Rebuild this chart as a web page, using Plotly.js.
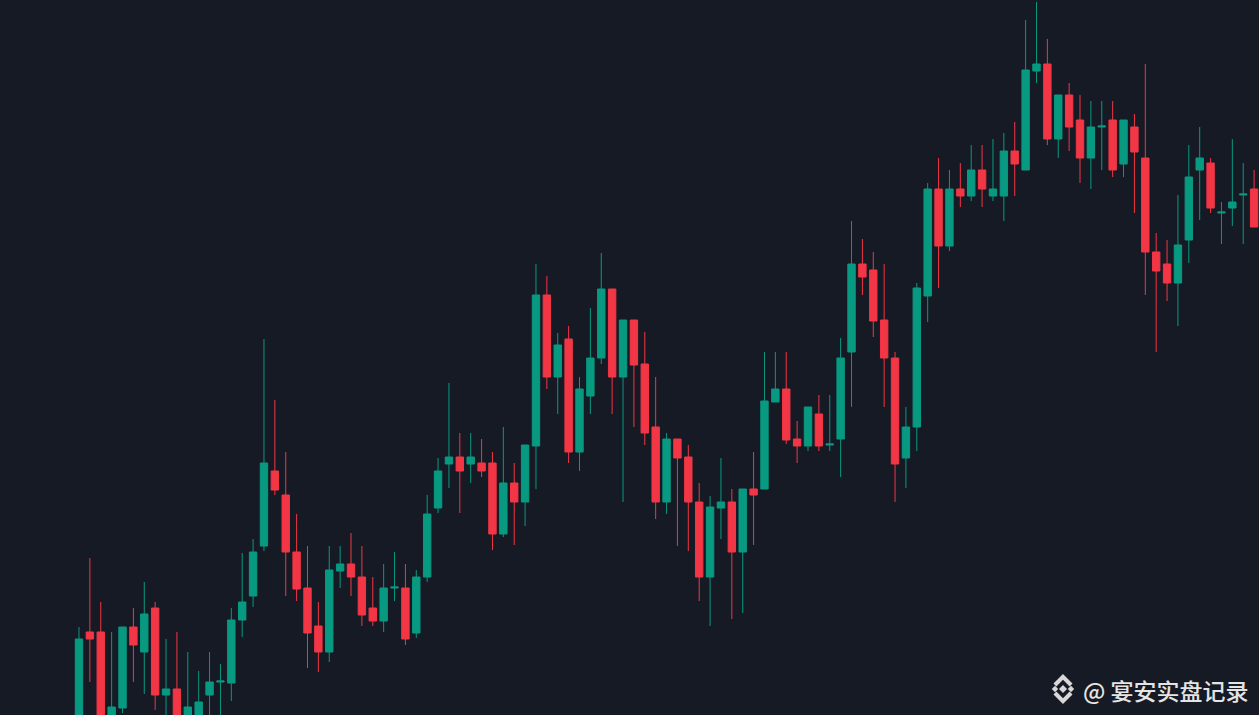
<!DOCTYPE html>
<html>
<head>
<meta charset="utf-8">
<script src="https://cdn.plot.ly/plotly-3.0.1.min.js"></script>
<style>
  html, body { margin: 0; padding: 0; background: #161a25; overflow: hidden; }
  #chart { width: 1259px; height: 715px; }
</style>
</head>
<body>
<div id="chart"></div>
<script>
// Price values (arbitrary price units)
const openP = [
  -5, 83, 83, -5, 7, 88, 63, 107, 20, 26,
  -3, -3, 20, 33, 32, 95, 119, 169, 244, 220,
  163, 127, 89, 63, 144, 151, 138, 107, 94, 127,
  127, 82, 138, 207, 251, 258, 251, 252, 252, 181,
  232, 213, 269, 420, 338, 376, 263, 319, 357, 426,
  338, 395, 351, 288, 213, 276, 258, 213, 138, 207,
  213, 163, 226, 226, 313, 326, 276, 269, 301, 270,
  276, 363, 451, 445, 395, 357, 257, 288, 419, 526,
  469, 526, 519, 545, 519, 519, 564, 545, 644, 651,
  576, 620, 595, 557, 588, 595, 551, 588, 557, 463,
  451, 432, 475, 545, 552, 502, 507, 520, 526
];
const highP = [
  88, 157, 113, 83, 88, 107, 133, 113, 76, 83,
  63, 44, 63, 51, 107, 162, 176, 376, 315, 263,
  201, 169, 113, 169, 169, 182, 169, 138, 151, 163,
  151, 145, 220, 257, 332, 282, 282, 276, 263, 288,
  252, 270, 451, 439, 382, 389, 338, 407, 462, 426,
  395, 395, 383, 338, 282, 276, 270, 232, 219, 257,
  226, 226, 263, 363, 363, 363, 294, 308, 320, 320,
  377, 494, 476, 463, 451, 363, 308, 432, 532, 557,
  545, 552, 570, 570, 576, 582, 593, 695, 713, 676,
  620, 632, 620, 614, 614, 614, 595, 601, 651, 482,
  475, 520, 570, 588, 557, 513, 576, 552, 545
];
const lowP = [
  -12, 33, -10, -10, 2, 33, 21, 5, -3, -10,
  -8, -8, -3, -3, 14, 78, 108, 164, 220, 119,
  114, 47, 43, 53, 127, 119, 89, 89, 83, 114,
  70, 77, 133, 202, 227, 202, 232, 238, 165, 178,
  170, 189, 226, 326, 301, 252, 244, 301, 351, 301,
  213, 288, 270, 196, 201, 169, 164, 114, 89, 176,
  96, 102, 170, 226, 313, 271, 252, 264, 264, 264,
  238, 308, 420, 378, 308, 213, 227, 264, 393, 427,
  464, 508, 514, 508, 514, 494, 519, 545, 632, 570,
  557, 564, 532, 526, 545, 538, 538, 502, 420, 363,
  414, 389, 452, 495, 502, 471, 489, 471, 488
];
const closeP = [
  76, 76, -5, 8, 88, 70, 101, 20, 26, -5,
  8, 13, 33, 34, 95, 113, 163, 252, 225, 163,
  126, 82, 63, 145, 151, 138, 100, 94, 127, 128,
  76, 138, 201, 244, 258, 244, 258, 244, 181, 232,
  213, 270, 420, 338, 370, 263, 326, 357, 426, 338,
  395, 350, 282, 213, 276, 257, 213, 138, 208, 213,
  163, 226, 220, 314, 326, 275, 269, 308, 269, 271,
  357, 451, 438, 394, 357, 251, 288, 427, 526, 469,
  526, 519, 545, 526, 526, 564, 551, 645, 651, 576,
  620, 588, 557, 588, 589, 545, 595, 563, 463, 444,
  432, 470, 538, 557, 507, 503, 513, 521, 488
];
const bars = openP.map((_, i) => i);

const UP = '#089981';
const DOWN = '#f23645';
const BG = '#161a25';
const W = 1259, H = 715;

const trace = {
  type: 'candlestick',
  x: bars,
  open: openP,
  high: highP,
  low: lowP,
  close: closeP,
  increasing: { line: { color: UP, width: 1 }, fillcolor: UP },
  decreasing: { line: { color: DOWN, width: 1 }, fillcolor: DOWN },
  whiskerwidth: 0,
  hoverinfo: 'skip',
  showlegend: false
};

// Binance-style logo drawn as paper-referenced polygons (pixel coords -> paper)
function poly(pts) {
  return 'M' + pts.map(p => (p[0] / W).toFixed(5) + ',' + ((H - p[1]) / H).toFixed(5)).join(' L') + ' Z';
}
function diamond(cx, cy, r) {
  return poly([[cx, cy - r], [cx + r, cy], [cx, cy + r], [cx - r, cy]]);
}
const LOGO = '#d8d8d8';
const logoPaths = [
  diamond(1063, 689, 4.0),
  diamond(1055, 689, 3.2),
  diamond(1071, 689, 3.2),
  poly([[1053.5, 683.5], [1063, 674], [1072.5, 683.5], [1069.6, 686.4], [1063, 679.8], [1056.4, 686.4]]),
  poly([[1053.5, 694.5], [1063, 704], [1072.5, 694.5], [1069.6, 691.6], [1063, 698.2], [1056.4, 691.6]])
];
const shapes = logoPaths.map(p => ({
  type: 'path', xref: 'paper', yref: 'paper', path: p,
  fillcolor: LOGO, line: { width: 0 }, layer: 'above'
}));

const layout = {
  width: W,
  height: H,
  margin: { l: 0, r: 0, t: 0, b: 0, pad: 0 },
  paper_bgcolor: BG,
  plot_bgcolor: BG,
  boxgap: 0.32,
  boxgroupgap: 0,
  showlegend: false,
  xaxis: {
    range: [-7.26, 108.45],
    visible: false,
    showgrid: false,
    zeroline: false,
    rangeslider: { visible: false },
    fixedrange: true
  },
  yaxis: {
    range: [0, 715],
    visible: false,
    showgrid: false,
    zeroline: false,
    fixedrange: true
  },
  shapes: shapes,
  annotations: [
    {
      text: '@ 宴安实盘记录',
      xref: 'paper', yref: 'paper',
      x: 1251 / W, y: 0.035,
      xanchor: 'right', yanchor: 'middle',
      showarrow: false,
      font: { family: 'Noto Sans CJK SC', size: 23, color: '#e4e4e4', weight: 500 }
    }
  ]
};

Plotly.newPlot('chart', [trace], layout, { displayModeBar: false, staticPlot: true });
</script>
</body>
</html>
